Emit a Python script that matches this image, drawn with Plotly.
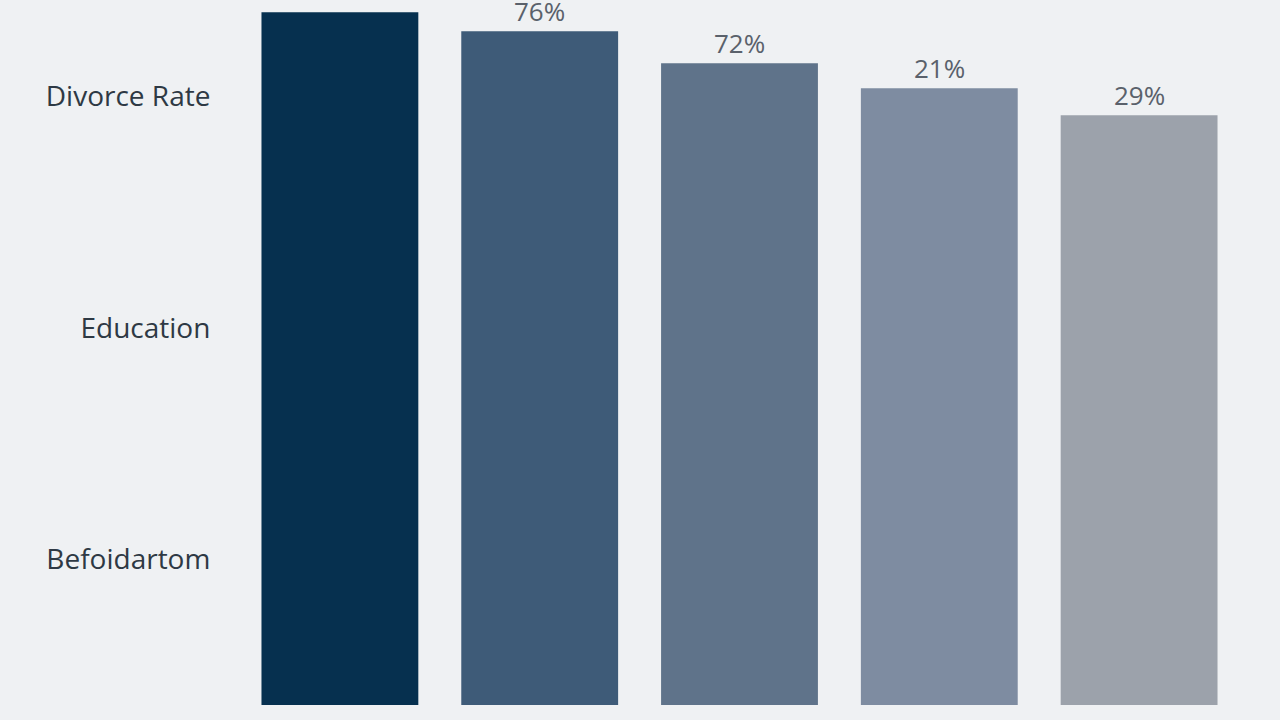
import plotly.graph_objects as go

# bars, left to right
categories = ["A", "B", "C", "D", "E"]
values = [80.0, 77.8, 74.1, 71.2, 68.1]
value_labels = ["", "76%", "72%", "21%", "29%"]
bar_colors = ["#06304f", "#3e5b78", "#5f738a", "#7e8ca1", "#9ca2ab"]

# left side labels
row_labels = ["Divorce Rate", "Education", "Befoidartom"]
row_positions = [70.3, 43.5, 16.85]

fig = go.Figure()
fig.add_trace(go.Bar(
    x=categories,
    y=values,
    marker=dict(color=bar_colors, line=dict(width=0)),
    hoverinfo="skip",
))

# value labels sit a bit above each bar
for cat, val, lab in zip(categories, values, value_labels):
    if not lab:
        continue
    fig.add_annotation(
        x=cat, y=val, text=lab, showarrow=False,
        yanchor="middle", yshift=20,
        font=dict(family="Open Sans, sans-serif", size=26, color="#5a616b"),
    )

fig.update_layout(
    width=1280,
    height=720,
    margin=dict(l=240, r=41, t=0, b=15),
    paper_bgcolor="#eff1f3",
    plot_bgcolor="#eff1f3",
    bargap=0.215,
    showlegend=False,
    xaxis=dict(showticklabels=False, showgrid=False, zeroline=False,
               range=[-0.5, 4.5], fixedrange=True),
    yaxis=dict(
        range=[0, 81.4],
        tickvals=row_positions,
        ticktext=row_labels,
        ticks="outside",
        ticklen=23,
        tickcolor="rgba(0,0,0,0)",
        showgrid=False,
        zeroline=False,
        tickfont=dict(family="Open Sans, sans-serif", size=28, color="#2e3944"),
    ),
)

# drop the default body margin so the figure fills the window
fig.write_html(
    "out.html",
    config={"displayModeBar": False},
    post_script="document.body.style.margin='0';document.body.style.background='#eff1f3';",
)
